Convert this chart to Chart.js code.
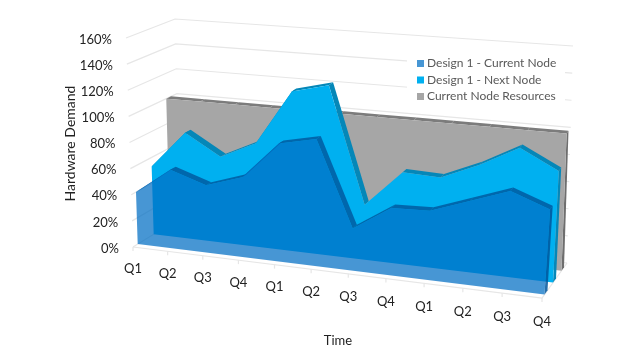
<!DOCTYPE html>
<html><head><meta charset="utf-8">
<style>html,body{margin:0;padding:0;background:#fff}canvas{display:block}</style>
<script src="https://cdn.jsdelivr.net/npm/chart.js@4/dist/chart.umd.js"></script>
</head><body><canvas id="c" width="640" height="360"></canvas>
<script>
const categories = ['Q1','Q2','Q3','Q4','Q1','Q2','Q3','Q4','Q1','Q2','Q3','Q4'];
const currentNode = [40,60,51,60,88,94,31,49,50,60,70,60];
const nextNode = [53,82,66,79,121,128,41,68,67,79,94,80];
const resources = [100,100,100,100,100,100,100,100,100,100,100,100];
const yTicks = {min:0,max:160,step:20};

// corners of the 3D box on the page
const C = {
  flb:[133,247], flt:[126,38], blb:[180,218], blt:[175,19],
  frb:[542,298], frt:[558,70], brb:[567,263], brt:[573,46]
};
const lerp=(a,b,t)=>[a[0]+(b[0]-a[0])*t,a[1]+(b[1]-a[1])*t];
function project(u,v,d){
  const r=1.08, s=u/(u+r*(1-u));
  const fb=lerp(C.flb,C.frb,s), ft=lerp(C.flt,C.frt,s), bb=lerp(C.blb,C.brb,s), bt=lerp(C.blt,C.brt,s);
  return lerp(lerp(fb,ft,v),lerp(bb,bt,v),d);
}
const layers=[
 {d0:.10,d1:.22,face:'rgba(0,110,195,0.72)',top:'rgba(0,85,155,0.8)',side:'rgba(0,85,155,0.85)'},
 {d0:.44,d1:.56,face:'#00b0f0',top:'#0587b8',side:'#0587b8'},
 {d0:.78,d1:.88,face:'#a6a6a6',top:'#7c7c7c',side:'#6e6e6e'}
];
const poly=(ctx,pts,fill)=>{ctx.beginPath();pts.forEach((p,i)=>i?ctx.lineTo(p[0],p[1]):ctx.moveTo(p[0],p[1]));ctx.closePath();ctx.fillStyle=fill;ctx.fill();};
const uv=(chart,i,val)=>{const x=chart.scales.x,y=chart.scales.y;
  return [(x.getPixelForValue(i)-x.left)/x.width,(y.bottom-y.getPixelForValue(val))/y.height];};

const box3d={
 id:'box3d',
 afterLayout(chart){const l=chart.legend;const w=l.width,h=l.height;l.left=422.5-7;l.right=l.left+w;l.top=53;l.bottom=53+h;},
 beforeDraw(chart){
  const ctx=chart.ctx,ys=chart.scales.y,xs=chart.scales.x;
  ctx.save();ctx.fillStyle='#fff';ctx.fillRect(0,0,640,360);
  ctx.strokeStyle='#e6e6e6';ctx.lineWidth=1.2;
  ys.ticks.forEach(t=>{
   const v=(ys.bottom-ys.getPixelForValue(t.value))/ys.height;
   const a=project(0,v,0),b=project(0,v,1),c=project(1,v,1);
   ctx.beginPath();ctx.moveTo(a[0],a[1]);ctx.lineTo(b[0],b[1]);ctx.lineTo(c[0],c[1]);ctx.stroke();
  });
  // floor edges and tick marks
  const f0=project(0,0,0),f1=project(1,0,0),f2=project(1,0,1);
  ctx.beginPath();ctx.moveTo(f0[0],f0[1]);ctx.lineTo(f1[0],f1[1]);ctx.lineTo(f2[0],f2[1]);ctx.stroke();
  categories.forEach((c,i)=>{const p=project(uv(chart,i,0)[0],0,0);
    ctx.beginPath();ctx.moveTo(p[0],p[1]);ctx.lineTo(p[0],p[1]+4);ctx.stroke();});
  ctx.fillStyle='#fff';ctx.fillRect(407,52,158,54);
  // tick labels and titles
  ctx.fillStyle='#222';ctx.font='13px Lato';ctx.textBaseline='middle';
  ctx.textAlign='right';
  ys.ticks.forEach(t=>{const v=(ys.bottom-ys.getPixelForValue(t.value))/ys.height;const p=project(0,v,0);
    ctx.fillText(t.label,p[0]-14,p[1]+1.5);});
  ctx.textAlign='center';
  categories.forEach((c,i)=>{const u=uv(chart,i,0)[0];const p=project(u,0,0);ctx.fillText(xs.getLabelForValue(i),p[0],p[1]+22+u*1.5);});
  ctx.fillText('Time',338,341);
  ctx.save();ctx.translate(70,143.5);ctx.rotate(-Math.PI/2);ctx.font='14px Lato';ctx.fillText('Hardware Demand',0,0);ctx.restore();
  ctx.restore();
 },
 beforeDatasetDraw(chart,args){
  const ctx=chart.ctx,L=layers[args.index],vals=chart.data.datasets[args.index].data;
  const pts=vals.map((val,i)=>uv(chart,i,val));
  const fr=pts.map(p=>project(p[0],p[1],L.d0)),bk=pts.map(p=>project(p[0],p[1],L.d1));
  const last=pts.length-1;
  const f0=project(0,0,L.d0),f1=project(1,0,L.d0),b1=project(1,0,L.d1);
  ctx.save();
  for(let i=0;i<last;i++)poly(ctx,[fr[i],fr[i+1],bk[i+1],bk[i]],L.top);
  poly(ctx,[fr[last],bk[last],b1,f1],L.side);
  poly(ctx,[f0,...fr,f1],L.face);
  ctx.restore();
 }
};

new Chart(document.getElementById('c'),{
 type:'line',
 data:{labels:categories,datasets:[
  {label:'Design 1 - Current Node',data:currentNode,backgroundColor:'rgba(0,110,195,0.72)',borderColor:'rgba(0,110,195,0.72)',borderWidth:0,showLine:false,pointRadius:0},
  {label:'Design 1 - Next Node',data:nextNode,backgroundColor:'#00b0f0',borderColor:'#00b0f0',borderWidth:0,showLine:false,pointRadius:0},
  {label:'Current Node Resources',data:resources,backgroundColor:'#a6a6a6',borderColor:'#a6a6a6',borderWidth:0,showLine:false,pointRadius:0}
 ]},
 options:{
  responsive:false,animation:false,
  events:[],
  scales:{
   x:{display:false},
   y:{display:false,min:yTicks.min,max:yTicks.max,ticks:{stepSize:yTicks.step,callback:v=>v+'%'}}
  },
  plugins:{
   tooltip:{enabled:false},
   legend:{position:'chartArea',align:'start',
    labels:{font:{family:'Lato',size:12},color:'#595959',usePointStyle:true,pointStyle:'rect',boxWidth:1,boxHeight:7,padding:4.5}}
  }
 },
 plugins:[box3d]
});
</script></body></html>
